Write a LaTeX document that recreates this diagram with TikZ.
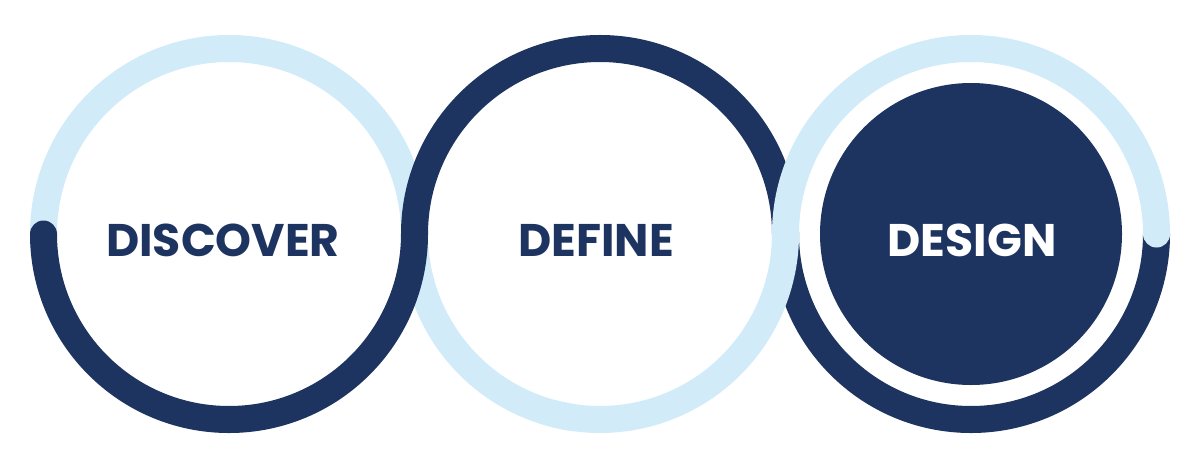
\documentclass[tikz,border=0pt]{standalone}
\usepackage{fontspec}
\setmainfont{Poppins}
\definecolor{navy}{RGB}{30,52,96}
\definecolor{skyblue}{RGB}{210,235,249}
\begin{document}
\begin{tikzpicture}[x=0.01cm,y=0.01cm,
    band/.style={line width=0.27cm,line cap=butt},
    stage/.style={font=\fontsize{13}{16}\selectfont\bfseries,anchor=base}]
  \useasboundingbox (0,0) rectangle (1200,466);

  % Light band, first part
  \draw[band,skyblue] (43.5,232) arc (180:0:185.5) arc (180:262:185.5);

  % Dark band
  \draw[band,navy] (43.5,232) arc (180:360:185.5) arc (180:0:185.5) arc (180:360:185.5);
  \fill[navy] (43.5,232) circle (13.5);

  % Light band, second part
  \draw[band,skyblue] (600,232) ++(255:185.5) arc (255:360:185.5) arc (180:0:185.5);
  \fill[skyblue] (1156.5,232) circle (13.5);

  % Inner disk of the last ring
  \fill[navy] (971,232) circle (151);

  % Labels
  \node[stage,text=navy] (discover) at (223,210) {DISCOVER};
  \node[stage,text=navy] (define) at (596,210) {DEFINE};
  \node[stage,text=white] (design) at (972,210) {DESIGN};
\end{tikzpicture}
\end{document}
